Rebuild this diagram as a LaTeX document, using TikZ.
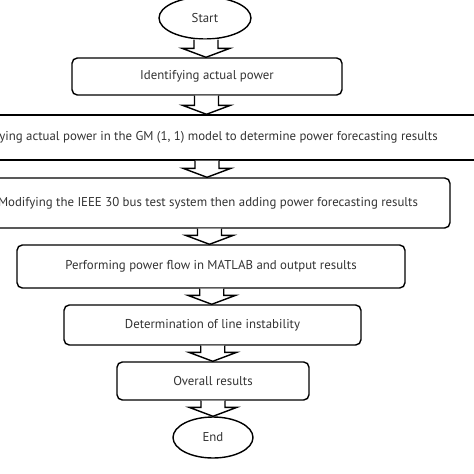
\documentclass[tikz,border=0pt]{standalone}
\usepackage{fontspec}
\setmainfont{PT Sans}
\usepackage{tikz}
\usetikzlibrary{shapes.geometric, calc}
\usepackage{xcolor}
\definecolor{flowtext}{HTML}{333333}

\tikzset{
  stepbox/.style={rectangle, rounded corners=3pt, draw=black, fill=white,
      line width=0.8pt, font=\fontsize{7.3}{9}\selectfont, text=flowtext},
  termbox/.style={ellipse, draw=black, fill=white, line width=0.8pt,
      font=\fontsize{7.3}{9}\selectfont, text=flowtext, inner sep=0pt},
  blockarrow/.style={draw=black, fill=white, line width=0.8pt, line join=miter}
}

% hollow block arrow from the bottom of #1 to the top of #2
\newcommand{\flowarrow}[2]{%
  \draw[blockarrow] let \p1=(#1.south), \p2=(#2.north),
      \n1={0.5*\x1+0.5*\x2} in
    (\n1-0.24cm,\y1) -- (\n1-0.24cm,\y2+0.18cm) -- (\n1-0.48cm,\y2+0.18cm)
    -- (\n1,\y2) -- (\n1+0.48cm,\y2+0.18cm) -- (\n1+0.24cm,\y2+0.18cm)
    -- (\n1+0.24cm,\y1);}

\begin{document}
\begin{tikzpicture}[x=0.02cm, y=-0.02cm]
\useasboundingbox (0,0) rectangle (474,474);

\node[termbox, minimum width=1.84cm, minimum height=0.84cm] (start) at (205,18) {Start};
\node[stepbox, minimum width=5.4cm, minimum height=0.74cm] (ident) at (207,76.5) {Identifying actual power};
\node[stepbox, sharp corners, minimum width=11.6cm, minimum height=0.9cm] (apply) at (206,137.5)
  {Applying actual power in the GM (1, 1) model to determine power forecasting results};
\node[stepbox, minimum width=9.68cm, minimum height=1.0cm] (modify) at (208,203)
  {Modifying the IEEE 30 bus test system then adding power forecasting results};
\node[stepbox, minimum width=7.76cm, minimum height=0.86cm] (flow) at (211,266.5)
  {Performing power flow in MATLAB and output results};
\node[stepbox, minimum width=5.94cm, minimum height=0.8cm] (instab) at (212.5,325)
  {Determination of line instability};
\node[stepbox, minimum width=3.84cm, minimum height=0.76cm] (overall) at (213,381) {Overall results};
\node[termbox, minimum width=1.6cm, minimum height=0.82cm] (end) at (213,437.5) {End};

\flowarrow{start}{ident}
\flowarrow{ident}{apply}
\flowarrow{apply}{modify}
\flowarrow{modify}{flow}
\flowarrow{flow}{instab}
\flowarrow{instab}{overall}
\flowarrow{overall}{end}
\end{tikzpicture}
\end{document}
